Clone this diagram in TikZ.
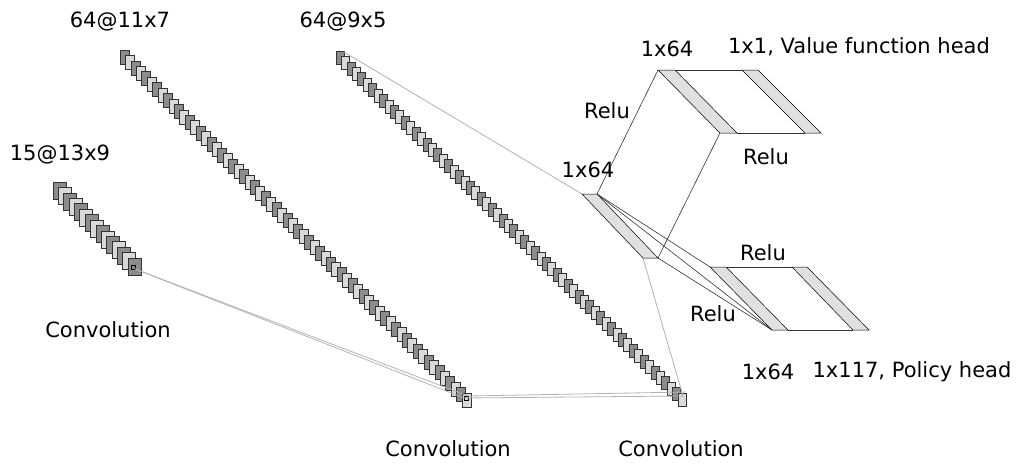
\documentclass[tikz,border=0pt]{standalone}
\usepackage{fontspec}
\setmainfont{DejaVu Sans}
\begin{document}
\begin{tikzpicture}[x=1pt,y=-1pt,
  fm/.style={draw=black!80,line width=0.6pt},
  lk/.style={draw=black!30,line width=0.8pt},
  dl/.style={draw=black!80,line width=0.6pt},
  par/.style={draw=black,fill=black!12,line width=0.5pt},
  lbl/.style={font=\fontsize{21}{24}\selectfont,inner sep=0pt}]
\useasboundingbox (0,0) rectangle (1029,471);
% stack 1: 15 maps
\foreach \i in {0,...,14}{
  \pgfmathsetmacro\xx{53+\i*(75/14)}\pgfmathsetmacro\yy{182+\i*(76/14)}
  \pgfmathtruncatemacro\od{mod(\i,2)}
  \ifnum\od=0 \def\fc{black!45}\else\def\fc{black!15}\fi
  \filldraw[fm,fill=\fc] (\xx,\yy) rectangle ++(13,17);
}
% stack 2: 64 maps
\foreach \i in {0,...,63}{
  \pgfmathsetmacro\xx{120+\i*(342/63)}\pgfmathsetmacro\yy{50+\i*(343/63)}
  \pgfmathtruncatemacro\od{mod(\i,2)}
  \ifnum\od=0 \def\fc{black!45}\else\def\fc{black!15}\fi
  \filldraw[fm,fill=\fc] (\xx,\yy) rectangle ++(9,14);
}
% stack 3: 64 maps
\foreach \i in {0,...,63}{
  \pgfmathsetmacro\xx{336+\i*(342/63)}\pgfmathsetmacro\yy{51+\i*(342/63)}
  \pgfmathtruncatemacro\od{mod(\i,2)}
  \ifnum\od=0 \def\fc{black!45}\else\def\fc{black!15}\fi
  \filldraw[fm,fill=\fc] (\xx,\yy) rectangle ++(8,13);
}
\draw[black,line width=0.6pt] (131,265) rectangle ++(4,4);
\draw[black,line width=0.6pt] (464,396) rectangle ++(4,4);
% coordinates
\coordinate (k1) at (135,269);
\coordinate (s2a) at (464,398);
\coordinate (s2b) at (468,396);
\coordinate (s3a) at (686,392);
\coordinate (s3b) at (683,396);
\coordinate (s3top) at (344,52);
\coordinate (dA) at (582,194); \coordinate (dB) at (597,194);
\coordinate (dC) at (658,258); \coordinate (dD) at (643,258);
\coordinate (vA) at (658,70); \coordinate (vB) at (675,70);
\coordinate (vC) at (737,133); \coordinate (vD) at (720,133);
\coordinate (wA) at (742,70); \coordinate (wB) at (758,70);
\coordinate (wC) at (821,133); \coordinate (wD) at (805,133);
\coordinate (pA) at (710,267); \coordinate (pB) at (726,267);
\coordinate (pC) at (788,330); \coordinate (pD) at (772,330);
\coordinate (qA) at (792,267); \coordinate (qB) at (807,267);
\coordinate (qC) at (869,330); \coordinate (qD) at (853,330);
% conv links
\draw[lk] (k1) -- (s2a); \draw[lk] (k1) -- (s2b);
\draw[lk] (s2b) -- (s3a); \draw[lk] (s2a) -- (s3b);
\draw[lk] (s3top) -- (dA);
\draw[lk] (s3b) -- (dD);
% dense links
\draw[dl] (dB) -- (vA); \draw[dl] (dC) -- (vD);
\draw[dl] (vB) -- (wA); \draw[dl] (vC) -- (wD);
\draw[dl] (dB) -- (pA); \draw[dl] (dB) -- (pD); \draw[dl] (dC) -- (pD);
\draw[dl] (pB) -- (qA); \draw[dl] (pC) -- (qD);
% parallelograms
\draw[par] (dA) -- (dB) -- (dC) -- (dD) -- cycle;
\draw[par] (vA) -- (vB) -- (vC) -- (vD) -- cycle;
\draw[par] (wA) -- (wB) -- (wC) -- (wD) -- cycle;
\draw[par] (pA) -- (pB) -- (pC) -- (pD) -- cycle;
\draw[par] (qA) -- (qB) -- (qC) -- (qD) -- cycle;
% labels
\node[lbl] (t1) at (60,155) {15@13x9};
\node[lbl] (t2) at (120,22) {64@11x7};
\node[lbl] (t3) at (343,22) {64@9x5};
\node[lbl] (c1) at (108,330) {Convolution};
\node[lbl] (c2) at (448,449) {Convolution};
\node[lbl] (c3) at (681,449) {Convolution};
\node[lbl] (d1) at (588,170) {1x64};
\node[lbl] (d2) at (667,49) {1x64};
\node[lbl] (d3) at (859,47) {1x1, Value function head};
\node[lbl] (r1) at (607,111) {Relu};
\node[lbl] (r2) at (766,157) {Relu};
\node[lbl] (r3) at (763,253) {Relu};
\node[lbl] (r4) at (713,314) {Relu};
\node[lbl] (d4) at (768,372) {1x64};
\node[lbl] (d5) at (912,372) {1x117, Policy head};
\end{tikzpicture}
\end{document}
